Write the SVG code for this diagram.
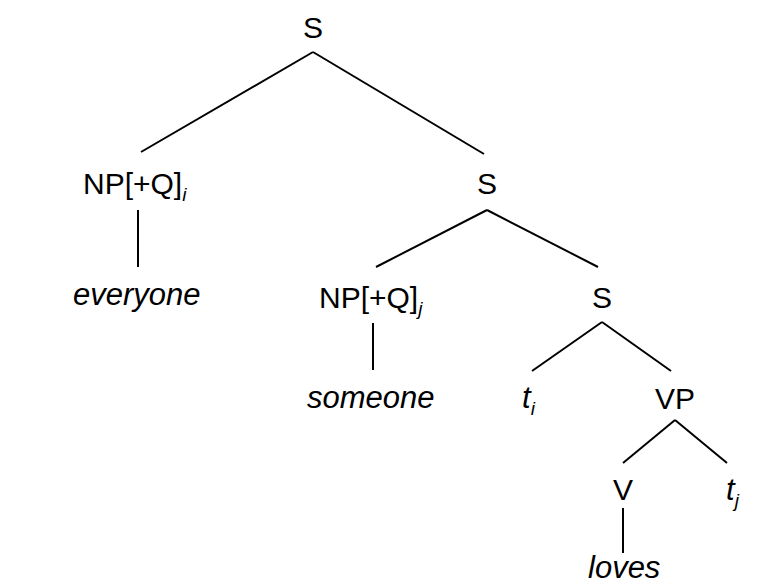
<svg xmlns="http://www.w3.org/2000/svg" width="757" height="587" viewBox="0 0 757 587">
<style>
text{font-family:"Liberation Sans",Arial,sans-serif;font-size:30px;fill:#000}
.it{font-style:italic;font-size:31px}
.sub{font-size:19px;font-style:italic}
.e{stroke:#000;stroke-width:2;fill:none}
</style>
<rect width="757" height="587" fill="#fff"/>
<g id="connectors">
<line class="e" x1="313" y1="52" x2="141" y2="152"/>
<line class="e" x1="313" y1="52" x2="484" y2="154"/>
<line class="e" x1="138" y1="210" x2="138" y2="267"/>
<line class="e" x1="487" y1="210" x2="376" y2="267"/>
<line class="e" x1="487" y1="210" x2="598" y2="267"/>
<line class="e" x1="373" y1="323" x2="373" y2="370"/>
<line class="e" x1="602" y1="322" x2="532" y2="371"/>
<line class="e" x1="602" y1="322" x2="671" y2="371"/>
<line class="e" x1="675" y1="420" x2="623" y2="463"/>
<line class="e" x1="675" y1="420" x2="727" y2="463"/>
<line class="e" x1="623" y1="508" x2="623" y2="553"/>
</g>
<g id="S1"><text x="313" y="38" text-anchor="middle">S</text></g>
<g id="NPi"><text x="83" y="194">NP[+Q]<tspan class="sub" dy="7">i</tspan></text></g>
<g id="everyone"><text class="it" x="73" y="305">everyone</text></g>
<g id="S2"><text x="487" y="194" text-anchor="middle">S</text></g>
<g id="NPj"><text x="319" y="308">NP[+Q]<tspan class="sub" dy="7">j</tspan></text></g>
<g id="someone"><text class="it" x="307" y="408">someone</text></g>
<g id="S3"><text x="602" y="308" text-anchor="middle">S</text></g>
<g id="ti"><text class="it" x="522" y="408">t<tspan class="sub" dy="7">i</tspan></text></g>
<g id="VP"><text x="675" y="409" text-anchor="middle">VP</text></g>
<g id="V"><text x="623" y="500" text-anchor="middle">V</text></g>
<g id="tj"><text class="it" x="726" y="500">t<tspan class="sub" dy="7">j</tspan></text></g>
<g id="loves"><text class="it" x="588" y="578" font-size="30">loves</text></g>
</svg>
